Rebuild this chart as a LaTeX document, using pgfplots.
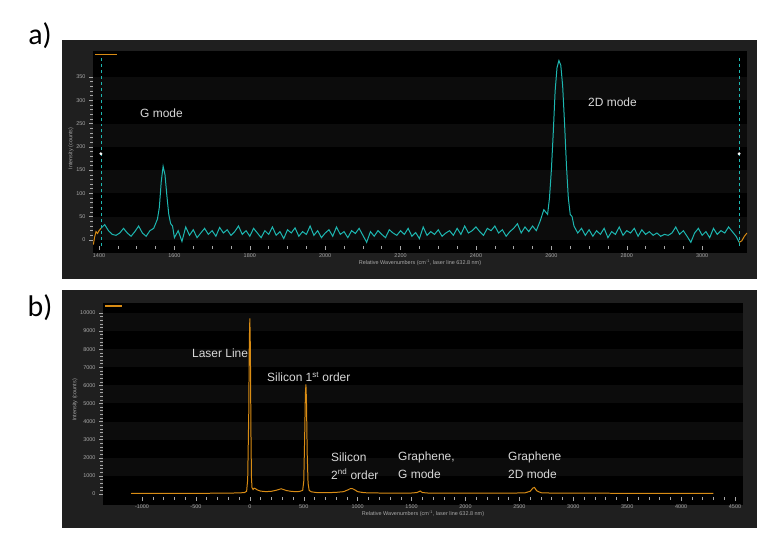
\documentclass[border=0pt]{standalone}
\usepackage{pgfplots}
\pgfplotsset{compat=1.18}
\usepackage{fontspec}
\setmainfont{Liberation Sans}
\newfontfamily\labfont{Carlito}
\definecolor{panel}{HTML}{1F1F1F}
\definecolor{band}{HTML}{0C0C0C}
\definecolor{cyanl}{HTML}{1DB7B1}
\definecolor{orng}{HTML}{D98C14}
\definecolor{txt}{HTML}{D8D8D8}
\definecolor{tck}{HTML}{A8A8A8}
\pgfplotsset{
  ramanstyle/.style={
    scale only axis,
    axis line style={draw=none},
    tick align=outside,
    xtick pos=bottom, ytick pos=left,
    major tick length=4bp,
    minor tick length=3bp,
    tick style={color=tck, line width=0.5pt},
    ticklabel style={font=\fontsize{5.5}{6}\selectfont, text=tck},
    /pgf/number format/assume math mode=true,
    /pgf/number format/set thousands separator={},
    scaled ticks=false,
    label style={font=\fontsize{5.5}{6}\selectfont, text=tck},
    clip=true,
  }
}
\begin{document}
\begin{tikzpicture}
\useasboundingbox (0bp,0bp) rectangle (764bp,-534bp);
% panels
\fill[panel] (62bp,-40bp) rectangle (757bp,-279bp);
\fill[panel] (62bp,-290bp) rectangle (757bp,-528bp);
\fill[black] (93bp,-51bp) rectangle (747bp,-253bp);
\fill[black] (103bp,-303bp) rectangle (743bp,-505bp);
\node[font=\labfont\fontsize{30}{32}\selectfont, anchor=center] at (40bp,-36bp) {a)};
\node[font=\labfont\fontsize{30}{32}\selectfont, anchor=center] at (40bp,-308bp) {b)};

% ---------------- panel a ----------------
\begin{axis}[ramanstyle,
  at={(93bp,-246bp)}, anchor=south west,
  width=654bp, height=195bp,
  xmin=1384, xmax=3119, ymin=-12.9, ymax=405.6,
  xtick={1400,1600,...,3000}, minor x tick num=3,
  ytick={0,50,...,350}, minor y tick num=4,
  xlabel={Relative Wavenumbers (cm\textsuperscript{-1}, laser line 632.8 nm)},
  ylabel={Intensity (counts)},
  xlabel style={yshift=4bp},
  ylabel style={yshift=-4bp},
  axis background/.style={fill=black},
]
\fill[band] (axis cs:1384,300) rectangle (axis cs:3119,350);
\fill[band] (axis cs:1384,200) rectangle (axis cs:3119,250);
\fill[band] (axis cs:1384,100) rectangle (axis cs:3119,150);
\fill[band] (axis cs:1384,0) rectangle (axis cs:3119,50);
\addplot[orng, line width=1pt] coordinates {(1385,-10) (1388,5) (1392,18) (1396,14) (1400,20) (1405,25)};
\addplot[orng, line width=1pt] coordinates {(3098,-5) (3105,-2) (3112,8) (3119,15)};
\addplot[orng, line width=1.6pt] coordinates {(1389,398) (1448,398)};
\addplot[cyanl, line width=0.8pt, dashed] coordinates {(1405,-13) (1405,395)};
\addplot[cyanl, line width=0.8pt, dashed] coordinates {(3098,-13) (3098,395)};
\addplot[cyanl, line width=1pt] coordinates {
(1405,25) (1415,33) (1425,20) (1435,12) (1445,10) (1455,15) (1465,25) (1475,15) (1485,8) (1495,18)
(1505,30) (1515,15) (1525,8) (1535,20) (1545,25) (1555,45) (1560,70) (1565,125) (1570,158) (1575,140)
(1580,95) (1585,55) (1590,35) (1595,30) (1600,5) (1610,20) (1620,-3) (1630,28) (1640,10) (1650,22)
(1660,5) (1670,15) (1680,25) (1690,12) (1700,20) (1710,8) (1720,27) (1730,15) (1740,22) (1750,10)
(1760,18) (1770,30) (1780,12) (1790,20) (1800,8) (1810,25) (1820,15) (1830,5) (1840,20) (1850,12)
(1860,28) (1870,10) (1880,18) (1890,3) (1900,22) (1910,15) (1920,26) (1930,8) (1940,18) (1950,12)
(1960,30) (1970,10) (1980,20) (1990,5) (2000,15) (2010,22) (2020,8) (2030,28) (2040,12) (2050,18)
(2060,5) (2070,20) (2080,14) (2090,25) (2100,10) (2110,-5) (2120,18) (2130,8) (2140,20) (2150,12)
(2160,5) (2170,22) (2180,15) (2190,10) (2200,20) (2210,12) (2220,25) (2230,8) (2240,16) (2250,3)
(2260,28) (2270,10) (2280,18) (2290,12) (2300,22) (2310,8) (2320,15) (2330,20) (2340,10) (2350,25)
(2360,12) (2370,30) (2380,15) (2390,20) (2400,28) (2410,18) (2420,10) (2430,25) (2440,20) (2450,30)
(2460,15) (2470,22) (2480,8) (2490,18) (2500,25) (2510,35) (2520,15) (2530,28) (2540,18) (2550,30)
(2560,20) (2570,40) (2580,65) (2590,55) (2595,90) (2600,150) (2605,230) (2610,320) (2615,370) (2620,385)
(2625,375) (2630,330) (2635,250) (2640,160) (2645,90) (2650,55) (2655,50) (2660,30) (2670,15) (2680,25)
(2690,10) (2700,22) (2710,8) (2720,20) (2730,12) (2740,25) (2750,5) (2760,18) (2770,12) (2780,28)
(2790,10) (2800,20) (2810,15) (2820,25) (2830,8) (2840,22) (2850,12) (2860,18) (2870,10) (2880,15)
(2890,8) (2900,12) (2910,10) (2920,15) (2930,28) (2940,12) (2950,20) (2960,8) (2970,-5) (2980,15)
(2990,25) (3000,10) (3010,18) (3020,5) (3030,25) (3040,12) (3050,20) (3060,15) (3070,28) (3080,18)
(3090,8) (3095,0) (3098,-5)};
\addplot[only marks, mark=*, mark size=1.3bp, white] coordinates {(1405,185) (3098,185)};
\end{axis}

% ---------------- panel b ----------------
\begin{axis}[ramanstyle,
  at={(103bp,-497bp)}, anchor=south west,
  width=640bp, height=194bp,
  xmin=-1362, xmax=4574, ymin=-166, ymax=10552,
  xtick={-1000,-500,...,4500}, minor x tick num=4,
  ytick={0,1000,...,10000}, minor y tick num=4,
  xlabel={Relative Wavenumbers (cm\textsuperscript{-1}, laser line 632.8 nm)},
  ylabel={Intensity (counts)},
  xlabel style={yshift=4bp},
  ylabel style={yshift=-4bp},
  axis background/.style={fill=black},
]
\fill[band] (axis cs:-1362,9000) rectangle (axis cs:4574,10000);
\fill[band] (axis cs:-1362,7000) rectangle (axis cs:4574,8000);
\fill[band] (axis cs:-1362,5000) rectangle (axis cs:4574,6000);
\fill[band] (axis cs:-1362,3000) rectangle (axis cs:4574,4000);
\fill[band] (axis cs:-1362,1000) rectangle (axis cs:4574,2000);
\addplot[orng, line width=1.6pt] coordinates {(-1345,10390) (-1190,10390)};
\addplot[orng, line width=1pt] coordinates {
(-1100,40) (-1000,35) (-900,40) (-800,30) (-700,35) (-600,40) (-500,35) (-400,40) (-300,45) (-200,50)
(-100,60) (-50,80) (-30,150) (-20,800) (-10,4500) (-5,8500) (0,9700) (5,8000) (10,3500) (15,900)
(20,350) (30,250) (40,320) (50,300) (70,220) (100,160) (150,130) (200,150) (240,200) (270,250)
(290,290) (310,250) (340,190) (380,150) (420,130) (460,140) (490,200) (500,700) (508,3000) (515,5500)
(520,6050) (525,5200) (532,2200) (540,600) (550,200) (570,120) (620,80) (700,70) (800,90) (870,130)
(910,230) (930,290) (950,300) (970,240) (1000,130) (1050,80) (1100,60) (1200,55) (1300,50) (1400,50)
(1500,55) (1550,80) (1580,165) (1600,80) (1650,55) (1800,50) (2000,50) (2200,50) (2400,50) (2550,60)
(2600,150) (2625,330) (2640,360) (2660,180) (2700,70) (2800,50) (3000,45) (3200,45) (3400,40) (3600,40)
(3800,40) (4000,38) (4200,38) (4300,38)};
\end{axis}

% annotations
\begin{scope}[every node/.style={text=txt, font=\fontsize{12}{14}\selectfont, anchor=west, inner sep=0pt}]
\node at (140bp,-113bp) {G mode};
\node at (588bp,-102bp) {2D mode};
\node at (192bp,-353bp) {Laser Line};
\node at (267bp,-377bp) {Silicon 1\textsuperscript{st} order};
\node at (331bp,-457bp) {Silicon};
\node at (331bp,-474bp) {2\textsuperscript{nd} order};
\node at (398bp,-457bp) {Graphene,};
\node at (398bp,-474bp) {G mode};
\node at (508bp,-457bp) {Graphene};
\node at (508bp,-474bp) {2D mode};
\end{scope}
\end{tikzpicture}
\end{document}
